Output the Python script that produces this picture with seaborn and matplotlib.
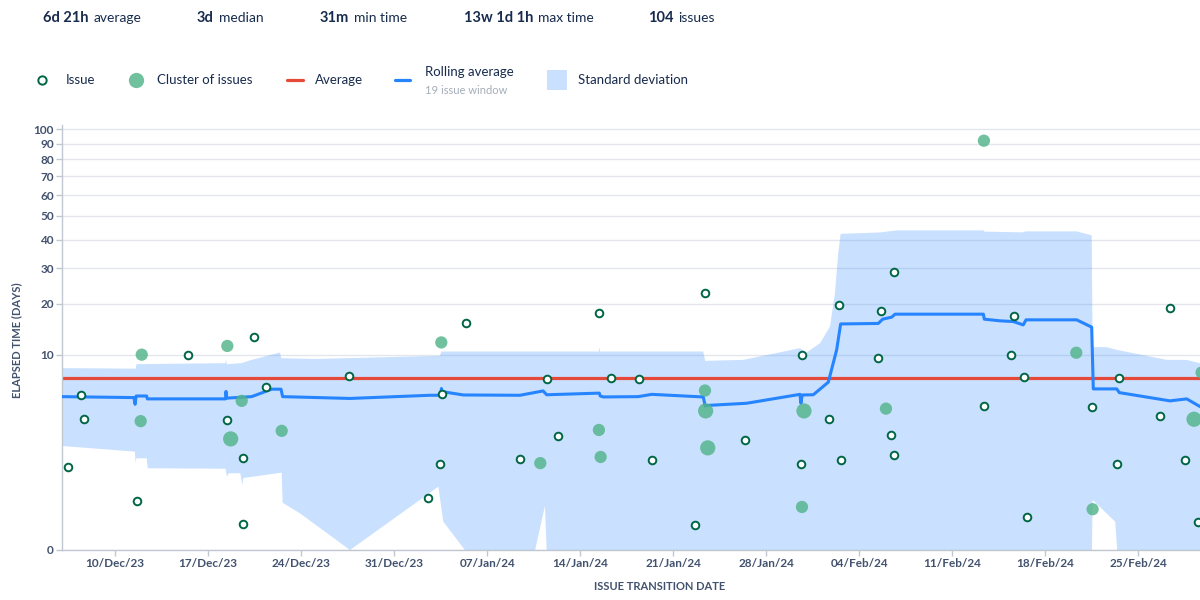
import matplotlib
matplotlib.use('Agg')
import matplotlib.pyplot as plt
import matplotlib.dates as mdates
from matplotlib.lines import Line2D
from matplotlib.patches import Rectangle
import seaborn as sns
import numpy as np
import pandas as pd

start = pd.Timestamp('2023-12-06')

# single issues: days since start, elapsed time in days
issue_day = [0.43, 1.41, 1.66, 5.62, 9.46, 12.42, 13.64, 13.60, 14.42, 15.37,
             21.57, 27.56, 28.44, 28.59, 30.40, 34.44, 36.47, 37.34, 40.40, 41.33,
             43.39, 44.37, 47.63, 48.40, 51.39, 55.66, 55.58, 57.69, 58.44, 58.62,
             61.40, 61.65, 62.40, 62.63, 62.63, 69.40, 71.40, 71.63, 72.41, 72.59,
             77.53, 79.40, 79.56, 82.62, 83.37, 84.52, 85.45]
issue_time = [0.77, 5.0, 3.04, 0.16, 9.9, 2.95, 1.06, 0.024, 13.0, 5.86,
              7.08, 0.19, 0.85, 5.08, 15.6, 1.0, 6.69, 1.99, 17.8, 6.88,
              6.69, 0.97, 0.021, 22.9, 1.79, 9.9, 0.85, 3.02, 19.7, 0.99,
              9.56, 18.3, 2.06, 28.8, 1.14, 3.99, 9.9, 17.1, 6.93, 0.048,
              3.93, 0.85, 6.88, 3.24, 19.0, 0.99, 0.029]

# clusters of issues
cluster_day = [5.92, 6.00, 12.44, 12.69, 13.52, 16.53, 28.54, 35.99, 40.40, 40.53,
               48.38, 48.43, 48.59, 55.83, 55.68, 62.00, 69.37, 76.32, 77.55, 85.18, 85.75]
cluster_time = [2.87, 10.0, 11.4, 1.84, 4.45, 2.27, 12.0, 0.88, 2.32, 1.08,
                5.44, 3.61, 1.43, 3.61, 0.107, 3.79, 92.0, 10.3, 0.091, 3.0, 7.5]
cluster_count = [2, 2, 2, 3, 2, 2, 2, 2, 2, 2,
                 2, 3, 3, 3, 2, 2, 2, 2, 2, 3, 2]

average = 6.875

# rolling average (19 issue window)
rolling_day = [0, 5.42, 5.5, 5.58, 6.37, 6.42, 12.3, 12.34, 12.4, 14.27,
               15.78, 16.48, 16.6, 21.67, 27.69, 28.5, 28.55, 28.6, 30.2, 34.46,
               36.2, 36.47, 40.43, 40.5, 40.73, 43.36, 44.37, 48.25, 48.4, 48.5,
               51.52, 55.53, 55.6, 55.7, 56.53, 57.66, 58.29, 58.59, 61.42, 61.75,
               62.43, 62.68, 69.33, 69.4, 70.58, 71.58, 72.33, 72.54, 76.35, 77.48,
               77.6, 79.36, 79.56, 83.37, 84.63, 85.63]
rolling_time = [4.84, 4.75, 4.15, 4.9, 4.9, 4.63, 4.63, 5.35, 4.7, 4.84,
                5.58, 5.58, 4.84, 4.67, 4.97, 4.97, 5.65, 5.33, 5.0, 4.97,
                5.4, 5.02, 5.18, 4.9, 4.81, 4.84, 5.06, 4.81, 4.01, 4.05,
                4.24, 5.06, 4.24, 5.0, 5.02, 6.34, 10.76, 15.5, 15.6, 16.5,
                16.94, 17.6, 17.6, 16.5, 16.15, 16.0, 15.3, 16.36, 16.36, 14.85,
                5.61, 5.61, 5.23, 4.45, 4.63, 3.96]

# standard deviation band
upper_day = [0, 5.55, 5.6, 12.3, 12.34, 12.4, 13.5, 14.27, 16.4, 16.5,
             19.0, 28.44, 28.54, 40.4, 40.43, 40.5, 48.25, 48.4, 51.26, 55.53,
             56.0, 57.04, 57.79, 58.16, 58.41, 58.59, 61.55, 62.8, 69.33, 69.4,
             72.3, 72.5, 76.35, 77.48, 77.55, 78.6, 79.36, 83.12, 84.6, 85.63]
upper_time = [8.07, 8.0, 8.61, 8.75, 9.3, 8.6, 8.75, 9.22, 10.33, 9.47,
              9.35, 9.82, 10.49, 10.49, 11.2, 10.49, 10.49, 9.08, 9.22, 11.03,
              10.3, 11.87, 14.97, 22.7, 35.1, 42.4, 42.96, 43.8, 43.8, 43.3,
              43.0, 43.4, 43.4, 41.8, 11.2, 11.2, 10.76, 9.22, 9.22, 8.75]
lower_day = [0, 5.49, 5.53, 5.6, 6.37, 6.45, 12.3, 12.42, 12.55, 13.42,
             13.56, 13.65, 14.4, 16.53, 16.6, 17.9, 21.67, 28.32, 28.69, 30.32,
             35.6, 36.34, 36.47, 77.5, 77.55, 79.25, 79.4, 85.63]
lower_time = [1.51, 1.277, 0.895, 1.037, 1.037, 0.733, 0.72, 0.53, 0.607, 0.607,
              0.369, 0.5, 0.53, 0.621, 0.142, 0.0665, 0, 0.341, 0.0305, 0,
              0, 0.1146, 0, 0, 0.168, 0.0305, 0, 0]

x_end = 85.63

# header stats: value, label
stat_values = ['6d 21h', '3d', '31m', '13w 1d 1h', '104']
stat_labels = ['average', 'median', 'min time', 'max time', 'issues']

navy = '#172b4d'
grey = '#42526e'
green_edge = '#006644'
cluster_col = '#52b48a'
red = '#e5493a'
blue = '#2684ff'
band_col = '#4c9aff'


def to_date(days):
    return start + pd.to_timedelta(np.asarray(days), unit='D')


sns.set_theme(style='white')
plt.rcParams['font.family'] = ['Lato', 'DejaVu Sans']

fig = plt.figure(figsize=(12, 6), dpi=100)
ax = fig.add_axes([62 / 1200, 50 / 600, 1 - 62 / 1200, 425 / 600])
ax.set_yscale('function', functions=(np.cbrt, lambda y: y ** 3))

# band
bx = np.concatenate([mdates.date2num(to_date(upper_day)), mdates.date2num(to_date(lower_day))[::-1]])
by = np.concatenate([upper_time, lower_time[::-1]])
ax.fill(bx, by, color=band_col, alpha=0.3, lw=0, zorder=1)

ax.axhline(average, color=red, lw=2.3, zorder=2)

roll = pd.DataFrame({'date': to_date(rolling_day), 'time': rolling_time})
sns.lineplot(data=roll, x='date', y='time', sort=False, estimator=None, color=blue,
             lw=2.2, ax=ax, zorder=3)

clus = pd.DataFrame({'date': to_date(cluster_day), 'time': cluster_time, 'n': cluster_count})
sns.scatterplot(data=clus, x='date', y='time', size='n', sizes={2: 78, 3: 120},
                color=cluster_col, alpha=0.82, linewidth=0, legend=False, ax=ax, zorder=4)

iss = pd.DataFrame({'date': to_date(issue_day), 'time': issue_time})
sns.scatterplot(data=iss, x='date', y='time', s=30, color='white', edgecolor=green_edge,
                linewidth=1.4, ax=ax, zorder=5)

ax.set_ylim(0, 103)
ax.set_xlim(mdates.date2num(start), mdates.date2num(to_date([x_end])[0]))
ax.set_yticks(list(range(0, 101, 10)))
ax.xaxis.set_major_locator(mdates.WeekdayLocator(byweekday=mdates.SU))
ax.xaxis.set_major_formatter(mdates.DateFormatter('%d/%b/%y'))
ax.yaxis.grid(True, color='#e4e6eb', lw=1)
ax.xaxis.grid(False)
ax.set_axisbelow(True)
for s in ['top', 'right']:
    ax.spines[s].set_visible(False)
for s in ['left', 'bottom']:
    ax.spines[s].set_color('#c1c7d0')
    ax.spines[s].set_linewidth(1)
ax.tick_params(axis='both', which='major', length=4, width=1, color='#c1c7d0',
               labelcolor=grey, labelsize=8.5, pad=2, left=True, bottom=True)
for lab in ax.get_xticklabels() + ax.get_yticklabels():
    lab.set_fontweight('bold')
ax.set_xlabel('')
ax.set_ylabel('')

fig.text(17 / 1200, 1 - 340 / 600, 'ELAPSED TIME (DAYS)', rotation=90, ha='center', va='center',
         fontsize=8, fontweight='bold', color=grey)
fig.text(660 / 1200, 1 - 587 / 600, 'ISSUE TRANSITION DATE', ha='center', va='center',
         fontsize=8, fontweight='bold', color=grey)

# header stats: bold value, then its label just after
renderer = fig.canvas.get_renderer()
value_x = [43, 197, 320, 464, 648]
for v, lab, xv in zip(stat_values, stat_labels, value_x):
    t = fig.text(xv / 1200, 1 - 18 / 600, v, fontsize=10.5, fontweight='bold', color=navy,
                 ha='left', va='center')
    x1 = t.get_window_extent(renderer).x1
    fig.text((x1 + 5) / 1200, 1 - 18 / 600, lab, fontsize=10, color=navy, ha='left', va='center')

# legend row
ly = 1 - 80 / 600
fig.add_artist(Line2D([42 / 1200], [ly], marker='o', ms=6, mfc='white', mec=green_edge, mew=1.4,
                      transform=fig.transFigure))
fig.text(66 / 1200, ly, 'Issue', fontsize=9.5, color=navy, va='center')
fig.add_artist(Line2D([136 / 1200], [ly], marker='o', ms=11, mfc=cluster_col, mec='none', alpha=0.82,
                      transform=fig.transFigure))
fig.text(157 / 1200, ly, 'Cluster of issues', fontsize=9.5, color=navy, va='center')
fig.add_artist(Line2D([287 / 1200, 303 / 1200], [ly, ly], color=red, lw=2.3, transform=fig.transFigure))
fig.text(315 / 1200, ly, 'Average', fontsize=9.5, color=navy, va='center')
fig.add_artist(Line2D([395 / 1200, 410 / 1200], [ly, ly], color=blue, lw=2.3, transform=fig.transFigure))
fig.text(425 / 1200, 1 - 72 / 600, 'Rolling average', fontsize=9.5, color=navy, va='center')
fig.text(425 / 1200, 1 - 90 / 600, '19 issue window', fontsize=8, color='#a5adba', va='center')
fig.add_artist(Rectangle((547 / 1200, 1 - 90 / 600), 20 / 1200, 20 / 600, color=band_col, alpha=0.3,
                         lw=0, transform=fig.transFigure))
fig.text(578 / 1200, ly, 'Standard deviation', fontsize=9.5, color=navy, va='center')

fig.savefig('out.png', dpi=100)
